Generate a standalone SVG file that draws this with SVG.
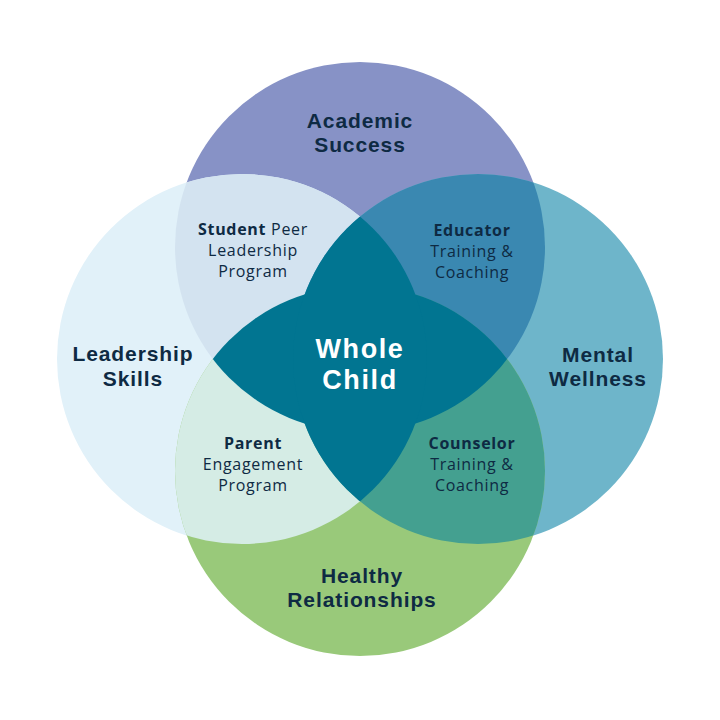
<svg xmlns="http://www.w3.org/2000/svg" width="720" height="720" viewBox="0 0 720 720">
<style>
.lbl{font-family:"Open Sans","Liberation Sans",sans-serif;fill:#0E2A43;text-anchor:middle}
.big{font-family:"Liberation Sans","Arial",sans-serif;font-size:21px;font-weight:700;letter-spacing:0.9px}
.sm{font-size:16px;font-weight:400;letter-spacing:0.7px}
.b{font-weight:700}
.ctr{font-family:"Liberation Sans","Arial",sans-serif;fill:#FFFFFF;text-anchor:middle;font-size:27px;font-weight:700;letter-spacing:1.6px}
</style>
<defs>
<circle id="cT" cx="360" cy="247" r="185"/>
<circle id="cL" cx="242" cy="359" r="185"/>
<circle id="cR" cx="478" cy="359" r="185"/>
<circle id="cB" cx="360" cy="471" r="185"/>
<clipPath id="clipT"><use href="#cT"/></clipPath>
<clipPath id="clipL"><use href="#cL"/></clipPath>
<clipPath id="clipR"><use href="#cR"/></clipPath>
<clipPath id="clipB"><use href="#cB"/></clipPath>
</defs>
<rect width="720" height="720" fill="#FFFFFF"/>
<g id="circles">
<use id="academic-circle" href="#cT" fill="#8792C6"/>
<use id="leadership-circle" href="#cL" fill="#E1F1F9"/>
<use id="mental-circle" href="#cR" fill="#6EB5CA"/>
<use id="healthy-circle" href="#cB" fill="#99C97A"/>
</g>
<g id="overlaps">
<use href="#cL" fill="#D3E3F0" clip-path="url(#clipT)"/>
<use href="#cR" fill="#3A88B1" clip-path="url(#clipT)"/>
<use href="#cL" fill="#D5ECE5" clip-path="url(#clipB)"/>
<use href="#cR" fill="#44A090" clip-path="url(#clipB)"/>
<use href="#cT" fill="#017591" clip-path="url(#clipB)"/>
<use href="#cL" fill="#017591" clip-path="url(#clipR)"/>
</g>
<g id="academic">
<text class="lbl big" x="360" y="128">Academic</text>
<text class="lbl big" x="360" y="152">Success</text>
</g>
<g id="leadership">
<text class="lbl big" x="133" y="361">Leadership</text>
<text class="lbl big" x="133" y="386">Skills</text>
</g>
<g id="mental">
<text class="lbl big" x="598" y="362">Mental</text>
<text class="lbl big" x="598" y="386">Wellness</text>
</g>
<g id="healthy">
<text class="lbl big" x="362" y="583">Healthy</text>
<text class="lbl big" x="362" y="607">Relationships</text>
</g>
<g id="student">
<text class="lbl sm" x="253" y="235"><tspan class="b">Student</tspan> Peer</text>
<text class="lbl sm" x="253" y="256">Leadership</text>
<text class="lbl sm" x="253" y="277">Program</text>
</g>
<g id="educator">
<text class="lbl sm b" x="472" y="236">Educator</text>
<text class="lbl sm" x="472" y="257">Training &amp;</text>
<text class="lbl sm" x="472" y="278">Coaching</text>
</g>
<g id="parent">
<text class="lbl sm b" x="253" y="449">Parent</text>
<text class="lbl sm" x="253" y="470">Engagement</text>
<text class="lbl sm" x="253" y="491">Program</text>
</g>
<g id="counselor">
<text class="lbl sm b" x="472" y="449">Counselor</text>
<text class="lbl sm" x="472" y="470">Training &amp;</text>
<text class="lbl sm" x="472" y="491">Coaching</text>
</g>
<g id="whole-child">
<text class="ctr" x="360" y="358">Whole</text>
<text class="ctr" x="360" y="389">Child</text>
</g>
</svg>
